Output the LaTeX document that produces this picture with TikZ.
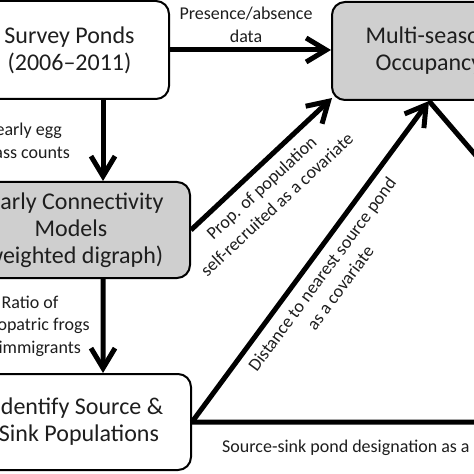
\documentclass[tikz,border=0pt]{standalone}
\usepackage{fontspec}
\setmainfont{Carlito}
\usetikzlibrary{arrows.meta}
\definecolor{boxgray}{RGB}{207,207,207}
\definecolor{txt}{RGB}{30,30,30}
\begin{document}
\begin{tikzpicture}[x=1bp,y=-1bp,
  box/.style={draw=black, line width=2bp, rounded corners=13bp, align=center,
    font=\fontsize{24bp}{27bp}\selectfont, text=txt, inner sep=0pt},
  graybox/.style={box, fill=boxgray},
  whitebox/.style={box, fill=white},
  lbl/.style={align=center, font=\fontsize{18bp}{22.5bp}\selectfont, text=txt, inner sep=0pt},
  conn/.style={line width=5bp, draw=black, line join=miter},
  arr/.style={conn, -{Straight Barb[length=20bp,width=24bp]}},
]
\useasboundingbox (0,0) rectangle (474,474);
\clip (0,0) rectangle (474,474);
\fill[white] (0,0) rectangle (474,474);

% boxes
\node[whitebox, minimum width=199bp, minimum height=98bp] (survey) at (69.5,50) {Survey Ponds\\(2006--2011)};
\node[graybox, minimum width=238bp, minimum height=96bp] (early) at (71,230) {Yearly Connectivity\\Models\\(weighted digraph)};
\node[whitebox, minimum width=224bp, minimum height=96bp] (ident) at (79,422) {Identify Source \&\\Sink Populations};
\node[graybox, minimum width=194bp, minimum height=98bp] (multi) at (429,51) {Multi-season\\Occupancy};
\coordinate (corner) at (705,422);

% connectors
\draw[arr] (survey.east) -- (survey.east -| multi.west);
\draw[arr] ([xshift=33.5bp]survey.south) -- ([xshift=32bp]early.north);
\draw[arr] ([xshift=32bp]early.south) -- ([xshift=24bp]ident.north);
\draw[arr] (early.east) -- ([xshift=1bp,yshift=3bp]multi.south west);
\draw[conn] (ident.east) -- (corner) -- (multi.south);
\draw[arr] (ident.east) -- (multi.south);

% labels
\node[lbl] (lpres) at (246,25) {Presence/absence\\data};
\node[lbl] (legg) at (25,141) {Yearly egg\\mass counts};
\node[lbl] (lratio) at (30,326) {Ratio of\\philopatric frogs\\to immigrants};
\node[lbl, anchor=base west] (lsink) at (222,452) {Source-sink pond designation as a covariate};
\node[lbl, rotate=42.9] (lprop) at (269,196) {Prop. of population\\self-recruited as a covariate};
\node[lbl, rotate=53.5] (ldist) at (331,281) {Distance to nearest source pond\\as a covariate};
\end{tikzpicture}
\end{document}
